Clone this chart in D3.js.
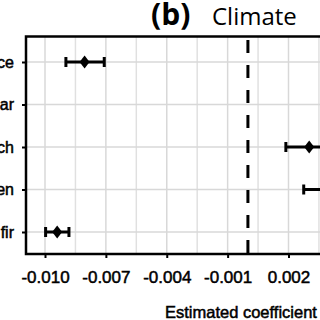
<!DOCTYPE html>
<html><head><meta charset="utf-8">
<script src="https://cdn.jsdelivr.net/npm/d3@7"></script>
<style>
html,body{margin:0;padding:0;background:#fff;overflow:hidden;}
svg{display:block;}
</style></head>
<body>
<svg id="chart" width="320" height="320"></svg>
<script>
const categories = ["Norway spruce", "Poplar", "Beech", "Aspen", "Silver fir"];
const estimates = [-0.00805, 0.0052, 0.00302, 0.0039, -0.0094];
const lowerCI = [-0.00897, 0.0043, 0.00187, 0.00275, -0.00997];
const upperCI = [-0.00708, 0.0061, 0.00417, 0.00505, -0.00882];
const xTickValues = [-0.010, -0.007, -0.004, -0.001, 0.002];
const xTickLabels = ["-0.010", "-0.007", "-0.004", "-0.001", "0.002"];
const xMinorValues = [-0.0085, -0.0055, -0.0025, 0.0005, 0.0035];
const panelLabel = "(b)";
const panelTitle = "Climate";
const xTitle = "Estimated coefficient";

const svg = d3.select("#chart");
const pLeft = 26, pTop = 36.5, pBottom = 254, pRight = 345;

const x = d3.scaleLinear().domain([-0.010, 0.002]).range([45, 288.5]);
const y = d3.scalePoint().domain(categories).range([62, 232]);

const grid = svg.append("g");
grid.selectAll(".vmaj").data(xTickValues).join("line")
  .attr("x1", d => x(d)).attr("x2", d => x(d))
  .attr("y1", pTop).attr("y2", pBottom)
  .attr("stroke", "#d8d8d8").attr("stroke-width", 1.5);
grid.selectAll(".vmin").data(xMinorValues).join("line")
  .attr("x1", d => x(d)).attr("x2", d => x(d))
  .attr("y1", pTop).attr("y2", pBottom)
  .attr("stroke", "#e0e0e0").attr("stroke-width", 1.5);
grid.selectAll(".h").data(categories).join("line")
  .attr("x1", pLeft).attr("x2", pRight)
  .attr("y1", d => y(d)).attr("y2", d => y(d))
  .attr("stroke", "#d8d8d8").attr("stroke-width", 1.5);

// zero reference line
svg.append("line")
  .attr("x1", x(0)).attr("x2", x(0))
  .attr("y1", 40).attr("y2", pBottom)
  .attr("stroke", "#000").attr("stroke-width", 3)
  .attr("stroke-dasharray", "13,12");

// error bars
const rows = categories.map((c, i) => ({c, est: estimates[i], lo: lowerCI[i], hi: upperCI[i]}));
const g = svg.append("g");
g.selectAll(".eb").data(rows).join("line")
  .attr("x1", d => x(d.lo)).attr("x2", d => x(d.hi))
  .attr("y1", d => y(d.c)).attr("y2", d => y(d.c))
  .attr("stroke", "#000").attr("stroke-width", 3);
g.selectAll(".capL").data(rows).join("line")
  .attr("x1", d => x(d.lo)).attr("x2", d => x(d.lo))
  .attr("y1", d => y(d.c) - 5).attr("y2", d => y(d.c) + 5)
  .attr("stroke", "#000").attr("stroke-width", 3);
g.selectAll(".capR").data(rows).join("line")
  .attr("x1", d => x(d.hi)).attr("x2", d => x(d.hi))
  .attr("y1", d => y(d.c) - 5).attr("y2", d => y(d.c) + 5)
  .attr("stroke", "#000").attr("stroke-width", 3);
g.selectAll(".pt").data(rows).join("path")
  .attr("d", "M0,-6.5L5,0L0,6.5L-5,0Z")
  .attr("transform", d => `translate(${x(d.est)},${y(d.c)})`)
  .attr("fill", "#000");

// panel border
svg.append("rect")
  .attr("x", pLeft).attr("y", pTop)
  .attr("width", pRight - pLeft).attr("height", pBottom - pTop)
  .attr("fill", "none").attr("stroke", "#000").attr("stroke-width", 2.5);

// axes
const xAxis = svg.append("g").attr("transform", `translate(0,${pBottom})`)
  .call(d3.axisBottom(x).tickValues(xTickValues)
    .tickFormat((d, i) => xTickLabels[i]).tickSize(4).tickPadding(13));
xAxis.select(".domain").remove();
xAxis.selectAll("line").attr("stroke", "#000").attr("stroke-width", 2);
xAxis.selectAll("text").attr("font-family", "Liberation Sans, Arial, sans-serif")
  .attr("font-size", 17).attr("fill", "#000")
  .attr("stroke", "#000").attr("stroke-width", 0.5);

const yAxis = svg.append("g").attr("transform", `translate(${pLeft},0)`)
  .call(d3.axisLeft(y).tickSize(4).tickPadding(8));
yAxis.select(".domain").remove();
yAxis.selectAll("line").attr("stroke", "#000").attr("stroke-width", 2);
yAxis.selectAll("text").attr("font-family", "Liberation Sans, Arial, sans-serif")
  .attr("font-size", 16).attr("fill", "#000")
  .attr("stroke", "#000").attr("stroke-width", 0.5);

// titles
svg.append("text").attr("x", 151).attr("y", 25)
  .attr("font-family", "Open Sans, sans-serif").attr("font-weight", "bold")
  .attr("font-size", 30).attr("fill", "#000").text(panelLabel);
svg.append("text").attr("x", 212).attr("y", 25)
  .attr("font-family", "Open Sans, sans-serif")
  .attr("font-size", 24).attr("fill", "#000").text(panelTitle);
svg.append("text").attr("x", 165).attr("y", 318)
  .attr("font-family", "Liberation Sans, Arial, sans-serif")
  .attr("font-size", 16.5).attr("fill", "#000")
  .attr("stroke", "#000").attr("stroke-width", 0.5).text(xTitle);
</script>
</body></html>
